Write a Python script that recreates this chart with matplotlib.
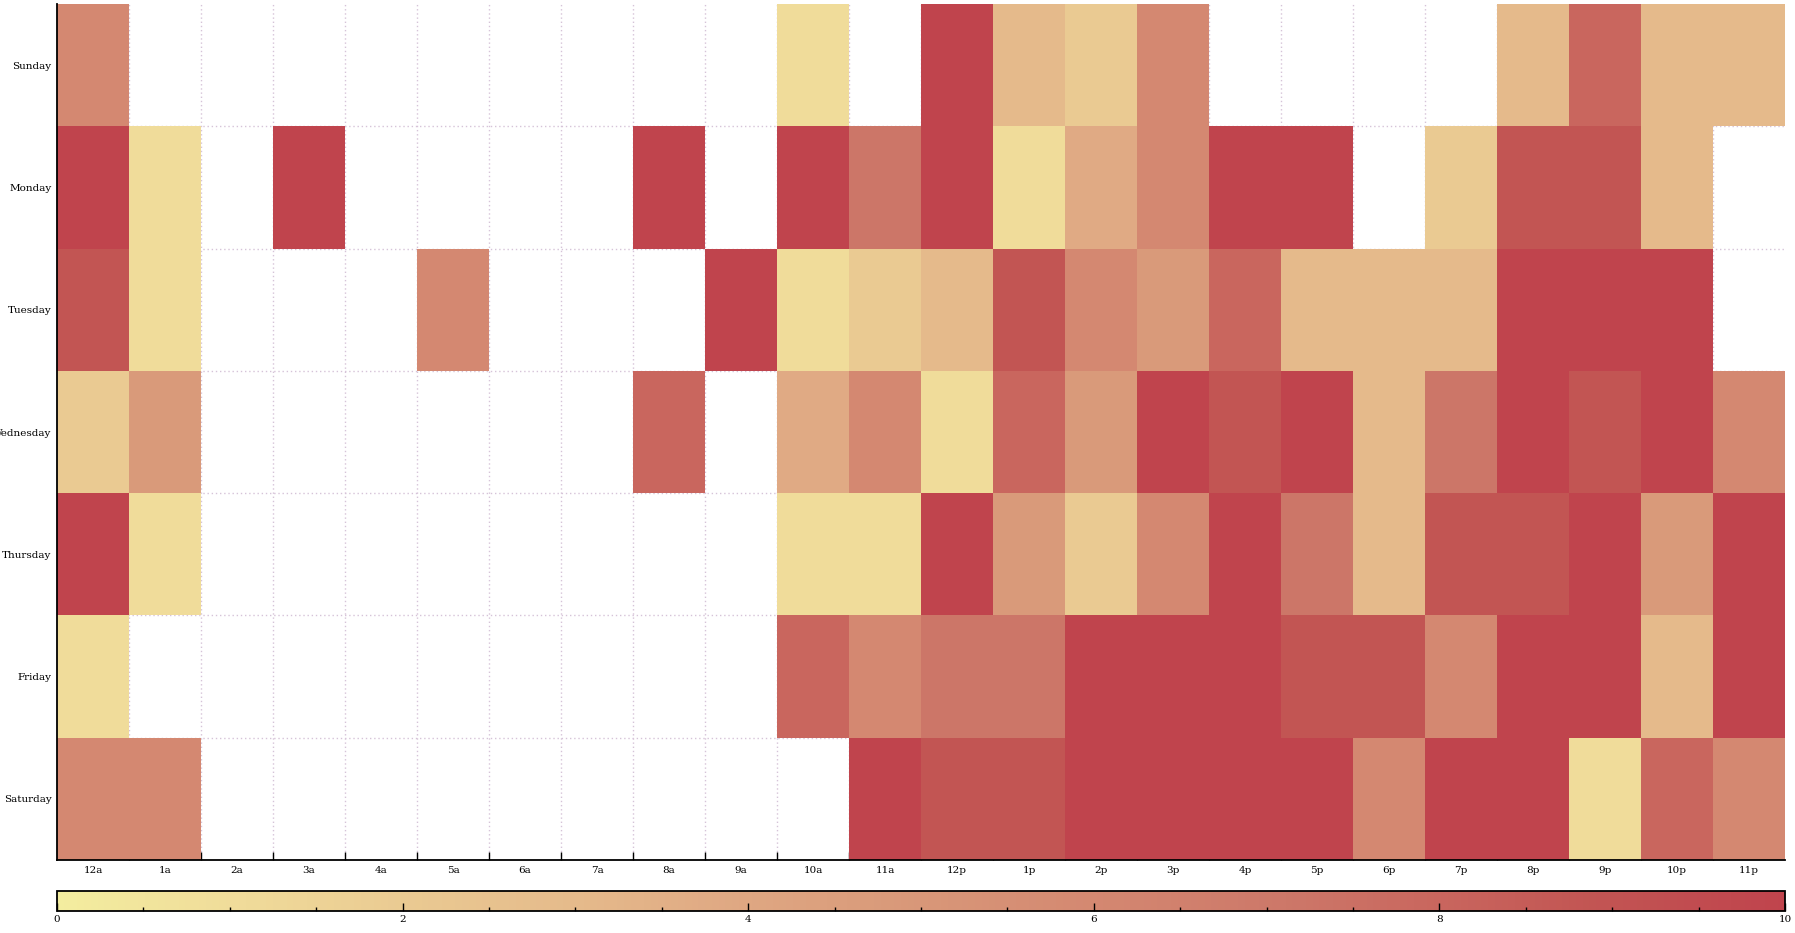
import numpy as np
import matplotlib
matplotlib.use("Agg")
import matplotlib.pyplot as plt
from matplotlib.colors import LinearSegmentedColormap
from matplotlib.ticker import MultipleLocator, FixedLocator

N = None
days = ["Sunday", "Monday", "Tuesday", "Wednesday", "Thursday", "Friday", "Saturday"]
hours = ["12a", "1a", "2a", "3a", "4a", "5a", "6a", "7a", "8a", "9a", "10a", "11a",
         "12p", "1p", "2p", "3p", "4p", "5p", "6p", "7p", "8p", "9p", "10p", "11p"]

sunday    = [6, N, N, N, N, N, N, N, N, N, 1, N, 10, 3, 2, 6, N, N, N, N, 3, 8, 3, 3]
monday    = [10, 1, N, 10, N, N, N, N, 10, N, 10, 7.2, 10, 1, 3.8, 6, 10, 10, N, 2, 8.9, 8.9, 3, N]
tuesday   = [8.9, 1, N, N, N, 6, N, N, N, 10, 1, 2, 3, 8.9, 6, 4.8, 8, 3, 3, 3, 10, 10, 10, N]
wednesday = [2, 4.8, N, N, N, N, N, N, 8, N, 3.8, 6, 1, 8, 4.8, 10, 8.9, 10, 3, 7.2, 10, 8.9, 10, 6]
thursday  = [10, 1, N, N, N, N, N, N, N, N, 1, 1, 10, 4.8, 2, 6, 10, 7.2, 3, 8.9, 8.9, 10, 4.8, 10]
friday    = [1, N, N, N, N, N, N, N, N, N, 8, 6, 7.2, 7.2, 10, 10, 10, 8.9, 8.9, 6, 10, 10, 3, 10]
saturday  = [6, 6, N, N, N, N, N, N, N, N, N, 10, 8.9, 8.9, 10, 10, 10, 10, 6, 10, 10, 1, 8, 6]

rows = [sunday, monday, tuesday, wednesday, thursday, friday, saturday]
data = np.array([[np.nan if v is None else v for v in r] for r in rows], dtype=float)
masked = np.ma.masked_invalid(data)

stops = [(0, "#f3ed9f"), (1, "#f0dc9a"), (2, "#eaca92"), (3, "#e5ba8b"),
         (3.8, "#e0aa84"), (4.8, "#d99a7a"), (6, "#d48871"), (7.2, "#cc7668"),
         (8, "#c9665e"), (8.9, "#c25553"), (10, "#c0444d")]
cmap = LinearSegmentedColormap.from_list("heat", [(v / 10.0, c) for v, c in stops], N=256)
cmap.set_bad((1, 1, 1, 0))

FONT = dict(family="DejaVu Serif", size=7.5)

W, H = 1795, 933
fig = plt.figure(figsize=(W / 100, H / 100), dpi=100)
ax = fig.add_axes([57 / W, 1 - 860 / H, 1728 / W, 856 / H])

ax.set_axisbelow(True)
mesh = ax.pcolormesh(np.arange(25), np.arange(8), masked, cmap=cmap, vmin=0, vmax=10,
                     zorder=2, edgecolors="none")
ax.set_xlim(0, 24)
ax.set_ylim(7, 0)

ax.xaxis.set_major_locator(FixedLocator(np.arange(1, 24)))
ax.yaxis.set_major_locator(FixedLocator(np.arange(1, 7)))
ax.set_xticklabels([])
ax.set_yticklabels([])
ax.set_xticks(np.arange(24) + 0.5, minor=True)
ax.set_yticks(np.arange(7) + 0.5, minor=True)
ax.set_xticklabels(hours, minor=True, fontdict=FONT)
ax.set_yticklabels(days, minor=True, fontdict=FONT)
ax.tick_params(which="major", direction="in", length=6, width=1, color="black")
ax.tick_params(which="minor", length=0, pad=4)

ax.grid(True, which="major", linestyle=(0, (1, 2)), color="#d6c3d8", linewidth=1.0, zorder=0)
for s in ["top", "right"]:
    ax.spines[s].set_visible(False)
for s in ["left", "bottom"]:
    ax.spines[s].set_linewidth(1.3)
    ax.spines[s].set_color("black")
    ax.spines[s].set_zorder(5)

cax = fig.add_axes([57 / W, 1 - 911 / H, 1728 / W, 20 / H])
cb = fig.colorbar(mesh, cax=cax, orientation="horizontal")
cb.set_ticks([0, 2, 4, 6, 8, 10])
cax.xaxis.set_minor_locator(MultipleLocator(0.5))
cax.tick_params(which="major", direction="in", length=6, width=1, labelsize=7.5, pad=3)
cax.tick_params(which="minor", direction="in", length=3, width=1)
for lab in cax.get_xticklabels():
    lab.set_family("DejaVu Serif")
cb.outline.set_linewidth(1.3)
cb.outline.set_edgecolor("black")

fig.savefig("out.png", dpi=100)
